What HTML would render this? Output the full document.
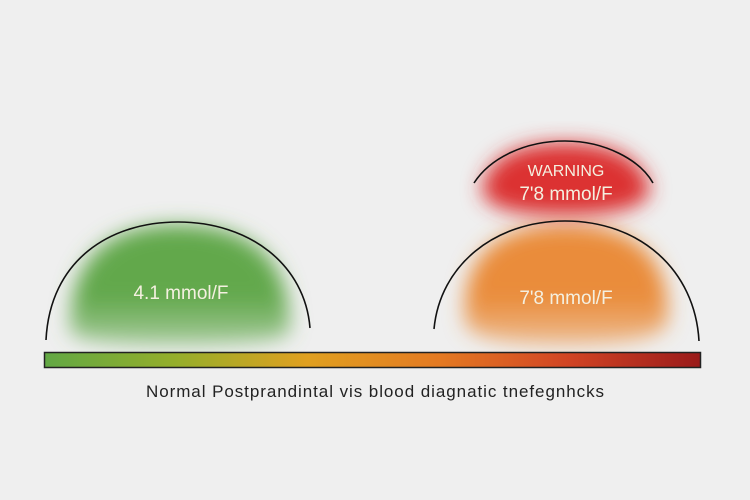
<!DOCTYPE html>
<html><head><style>
html,body{margin:0;padding:0;background:#efefef;}
svg{display:block}
</style></head><body>
<svg width="750" height="500" viewBox="0 0 750 500" xmlns="http://www.w3.org/2000/svg">
<defs>
<filter id="b" x="-30%" y="-30%" width="160%" height="160%"><feGaussianBlur stdDeviation="10"/></filter>
<linearGradient id="g" x1="0" x2="1">
<stop offset="0" stop-color="#62a844"/>
<stop offset="0.2" stop-color="#95ae2a"/>
<stop offset="0.4" stop-color="#e0a020"/>
<stop offset="0.6" stop-color="#e47a22"/>
<stop offset="0.8" stop-color="#d14424"/>
<stop offset="1" stop-color="#9a1a1a"/>
</linearGradient>
<linearGradient id="gg" x1="0" y1="0" x2="0" y2="1">
<stop offset="0.6" stop-color="#62a84c"/><stop offset="1" stop-color="#62a84c" stop-opacity="0.5"/>
</linearGradient>
<linearGradient id="og" x1="0" y1="0" x2="0" y2="1">
<stop offset="0.6" stop-color="#ea8c3a"/><stop offset="1" stop-color="#ea8c3a" stop-opacity="0.5"/>
</linearGradient>
</defs>
<rect width="750" height="500" fill="#efefef"/>
<path d="M70,330 Q70,225 178,225 Q290,225 290,330 Q290,345 178,345 Q70,345 70,330Z" fill="url(#gg)" filter="url(#b)"/>
<path d="M465,320 Q460,225 567,225 Q670,225 668,320 Q665,345 567,345 Q465,345 465,320Z" fill="url(#og)" filter="url(#b)"/>
<path d="M482,190 Q490,143 565,143 Q640,143 650,190 Q645,215 565,215 Q485,215 482,190Z" fill="#dc3030" filter="url(#b)"/>
<path d="M46,340 C50,260 110,222 178,222 C250,222 305,265 310,328" fill="none" stroke="#111" stroke-width="1.6"/>
<path d="M434,329 C440,265 495,221 565,221 C640,221 695,270 699,341" fill="none" stroke="#111" stroke-width="1.6"/>
<path d="M474,183 C490,158 525,141 565,141 C605,141 640,160 653,183" fill="none" stroke="#111" stroke-width="1.6"/>
<rect x="44.5" y="352.5" width="656" height="15" fill="url(#g)" stroke="#222" stroke-width="1.5"/>
<g font-family="Liberation Sans, sans-serif" fill="#f4f0e0" text-anchor="middle">
<text x="181" y="299" font-size="19">4.1 mmol/F</text>
<text x="566" y="176" font-size="16">WARNING</text>
<text x="566" y="200" font-size="19">7'8 mmol/F</text>
<text x="566" y="304" font-size="19">7'8 mmol/F</text>
</g>
<text x="146" y="397" font-family="Liberation Sans, sans-serif" font-size="17" fill="#222" textLength="458" lengthAdjust="spacing">Normal Postprandintal  vis blood  diagnatic tnefegnhcks</text>
</svg>
</body></html>
